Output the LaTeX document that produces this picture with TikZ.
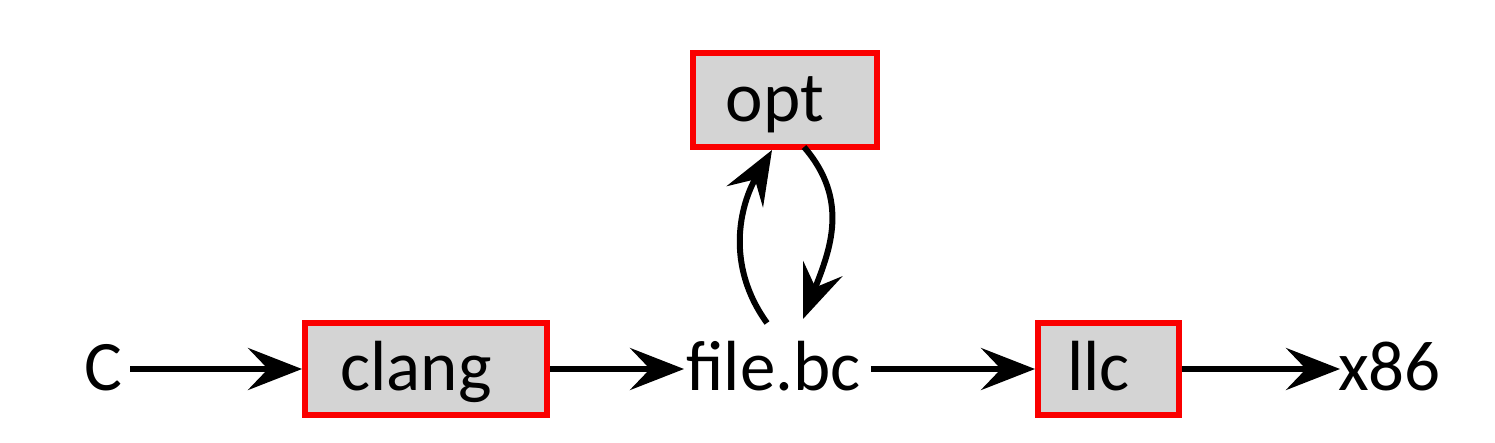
\documentclass[tikz,border=0pt]{standalone}
\usepackage{fontspec}
\setmainfont{Carlito}
\usetikzlibrary{arrows.meta}
\definecolor{boxgray}{RGB}{212,212,212}
\definecolor{boxred}{RGB}{250,0,0}
\begin{document}
\begin{tikzpicture}[x=1pt,y=-1pt,
  every node/.style={font=\fontsize{71}{80}\selectfont, text height=53pt, text depth=11pt},
  stagebox/.style={draw=boxred, fill=boxgray, line width=6pt, inner sep=0pt,
    execute at end node={\hspace*{20pt}}},
  plain/.style={inner sep=0pt, anchor=base west},
  flow/.style={line width=6pt, -{Stealth[length=54pt,width=42pt,inset=20pt]}}
]
\useasboundingbox (0,0) rectangle (1495,442);
\node[stagebox, minimum width=242pt, minimum height=92pt] (clang) at (426,369) {clang};
\node[stagebox, minimum width=184pt, minimum height=94pt] (opt) at (785,100) {opt};
\node[stagebox, minimum width=141pt, minimum height=92pt] (llc) at (1108.5,369) {llc};
\node[plain] (c) at (84,390) {C};
\node[plain] (file) at (686,390) {file.bc};
\node[plain] (x86) at (1338,390) {x86};
\coordinate (upstart) at (767,323);
\coordinate (upend) at (772,150);
\coordinate (dnstart) at (804,147);
\coordinate (dnend) at (803,319);
\draw[flow] ([xshift=8pt]c.east |- clang.west) -- (clang.west);
\draw[flow] (clang.east) -- ([xshift=-2pt]file.west |- clang.east);
\draw[flow] ([xshift=10pt]file.east |- llc.west) -- (llc.west);
\draw[flow] (llc.east) -- ([xshift=2pt]x86.west |- llc.east);
\draw[flow] (upstart) .. controls (725,265) and (740,205) .. (upend);
\draw[flow] (dnstart) .. controls (850,200) and (830,250) .. (dnend);
\end{tikzpicture}
\end{document}
